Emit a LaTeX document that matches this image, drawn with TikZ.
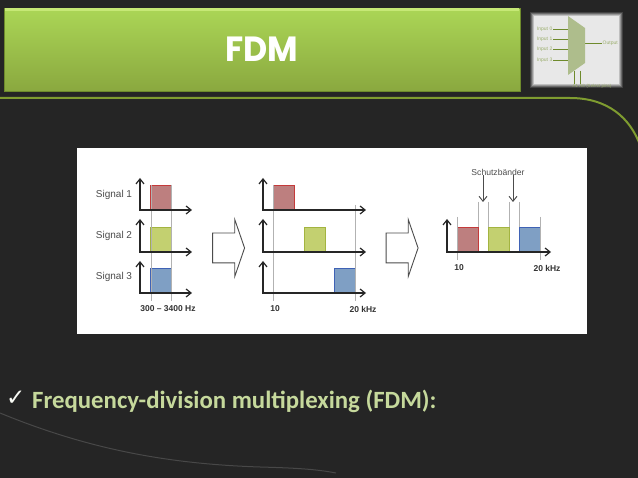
\documentclass[tikz,border=0pt]{standalone}
\usepackage{fontspec}
\usepackage{tikz}
\usetikzlibrary{arrows.meta, shapes, backgrounds}
\setmainfont{Liberation Sans}
\newfontfamily\titlefont{Poppins}
\newfontfamily\bulletfont{Carlito}
\newfontfamily\tickfont{DejaVu Sans}
\definecolor{slide}{HTML}{252525}
\definecolor{leaf}{HTML}{7F9C30}
\definecolor{leaftop}{HTML}{ABD656}
\definecolor{leafbottom}{HTML}{8AA83F}
\definecolor{leafshine}{HTML}{C6E876}
\definecolor{leafdark}{HTML}{6E8A2C}
\definecolor{muxfill}{HTML}{AEBD8C}
\definecolor{bullet}{HTML}{C6D99C}
\definecolor{sweep}{HTML}{484848}
\definecolor{redband}{HTML}{BD7F7F}
\definecolor{redline}{HTML}{C43A3A}
\definecolor{greenband}{HTML}{C3D070}
\definecolor{greenline}{HTML}{A3B440}
\definecolor{blueband}{HTML}{7F9FC4}
\definecolor{blueline}{HTML}{3F62B5}
\definecolor{thumb}{HTML}{E8E8E8}

\tikzset{
  band/.style={draw, line width=1pt, anchor=south west, inner sep=0pt, minimum width=21, minimum height=24},
  guide/.style={draw=black!30, line width=1pt},
  axis/.style={draw=black!85, line width=1.2pt, {Straight Barb[length=5pt,width=8pt]}-{Straight Barb[length=5pt,width=8pt]}},
  stage/.style={shape=single arrow, draw=black!70, fill=white, line width=0.9pt, inner xsep=0pt, inner ysep=14.5pt,
    minimum height=32, minimum width=56, single arrow head extend=13.5, single arrow tip angle=142},
  plate/.style={fill=thumb}
}

\begin{document}
\begin{tikzpicture}[x=1pt, y=-1pt, background rectangle/.style={fill=slide}, show background rectangle]
            \useasboundingbox (0,0) rectangle (638,478);

            % title bar
            \begin{scope}
                \node[shape=rectangle, draw=leafdark, top color=leaftop, bottom color=leafbottom, anchor=north west, inner sep=0pt,
                      minimum width=516, minimum height=83] (bar) at (4,8) {};
                \coordinate (barL) at (5,9.5);
                \coordinate (barR) at (519,9.5);
                \draw[line width=3pt, color=leafshine] (barL) -- (barR);
                \node[text=white, font=\titlefont\bfseries\fontsize{35}{35}\selectfont, xscale=0.95] (title) at (262,49) {FDM};
            \end{scope}

            % thumbnail
            \begin{scope}
                \fill[plate, opacity=0.15] (530,12) rectangle (623,88);
                \fill[plate, opacity=0.25] (531,13) rectangle (622,87);
                \fill[plate, opacity=0.35] (532,14) rectangle (621,86);
                \fill[plate, opacity=0.5] (533,15) rectangle (620,85);
                \fill[plate] (534,16) rectangle (619,84);
                \coordinate (i0) at (568,29);
                \coordinate (i1) at (568,39);
                \coordinate (i2) at (568,49);
                \coordinate (i3) at (568,60);
                \coordinate (o0) at (585,43);
                \coordinate (s0) at (574,71);
                \coordinate (s1) at (580,71);
                \node[inner sep=0.5pt, anchor=east, text=leafdark!70!white, font=\fontsize{5}{5}\selectfont] (in0) at (553,29) {Input 0};
                \node[inner sep=0.5pt, anchor=east, text=leafdark!70!white, font=\fontsize{5}{5}\selectfont] (in1) at (553,39) {Input 1};
                \node[inner sep=0.5pt, anchor=east, text=leafdark!70!white, font=\fontsize{5}{5}\selectfont] (in2) at (553,49) {Input 2};
                \node[inner sep=0.5pt, anchor=east, text=leafdark!70!white, font=\fontsize{5}{5}\selectfont] (in3) at (553,60) {Input 3};
                \node[inner sep=0.5pt, anchor=west, text=leafdark!70!white, font=\fontsize{5}{5}\selectfont] (out) at (602,43) {Output};
                \node[inner sep=0pt, text=leafdark!70!white, font=\fontsize{4.5}{5}\selectfont] (sel) at (592,86) {A1 A0 (Select pins)};
                \coordinate (s0b) at (574,84);
                \coordinate (s1b) at (580,84);
                \draw[leafdark, line width=0.9pt] (in0) -- (i0) (in1) -- (i1) (in2) -- (i2) (in3) -- (i3) (o0) -- (out) (s0) -- (s0b) (s1) -- (s1b);
                \fill[muxfill] (568,16) -- (585,28) -- (585,63) -- (568,75) -- cycle;
            \end{scope}

            % slide decoration
            \coordinate (ruleL) at (0,98);
            \coordinate (ruleM) at (570,98);
            \coordinate (ruleR) at (640,145);
            \draw[leaf, line width=2pt] (ruleL) -- (ruleM) .. controls (608,98) and (630,118) .. (ruleR);
            \coordinate (sweepL) at (0,413);
            \coordinate (sweepR) at (336,473);
            \draw[sweep, line width=1pt] (sweepL) .. controls (90,450) and (170,464) .. (260,467) .. controls (295,468) and (315,469) .. (sweepR);

            % white panel
            \node[shape=rectangle, fill=white, anchor=north west, inner sep=0pt, minimum width=510, minimum height=186] (panel) at (77,148) {};

            % signal labels
            \begin{scope}[every node/.style={inner sep=0pt, text=black!70, font=\fontsize{10}{11}\selectfont}]
                \node (sig1) at (114,195) {Signal 1};
                \node (sig2) at (114,236) {Signal 2};
                \node (sig3) at (114,277) {Signal 3};
                \node[text=black!80, font=\bfseries\fontsize{8.5}{9}\selectfont] (hz) at (168,309) {300 -- 3400 Hz};
                \node[text=black!80, font=\bfseries\fontsize{8.5}{9}\selectfont] (ten) at (275,309) {10};
                \node[text=black!80, font=\bfseries\fontsize{8.5}{9}\selectfont] (khz) at (363,309) {20 kHz};
                \node[text=black!80, font=\bfseries\fontsize{8.5}{9}\selectfont] (tenb) at (459,268) {10};
                \node[text=black!80, font=\bfseries\fontsize{8.5}{9}\selectfont] (khzb) at (547,268) {20 kHz};
                \node[font=\fontsize{8.6}{9}\selectfont] (guard) at (498,172) {Schutzbänder};
            \end{scope}

            % bands
            \begin{scope}
                \node[band, draw=redline, fill=redband] (a1) at (150,210) {};
                \node[band, draw=greenline, fill=greenband] (a2) at (150,252) {};
                \node[band, draw=blueline, fill=blueband] (a3) at (150,293) {};
                \node[band, draw=redline, fill=redband] (b1) at (273,210) {};
                \node[band, draw=greenline, fill=greenband] (b2) at (304,252) {};
                \node[band, draw=blueline, fill=blueband] (b3) at (334,293) {};
                \node[band, draw=redline, fill=redband] (c1) at (457,252) {};
                \node[band, draw=greenline, fill=greenband] (c2) at (488,252) {};
                \node[band, draw=blueline, fill=blueband] (c3) at (519,252) {};
            \end{scope}

            % guide lines
            \coordinate (g1) at (151,301);
            \coordinate (g2) at (171,301);
            \coordinate (g3) at (273,301);
            \coordinate (g4) at (355,301);
            \coordinate (g4t) at (355,205);
            \draw[guide] (g1 |- a1.north) -- (g1);
            \draw[guide] (g2 |- a1.north) -- (g2);
            \draw[guide] (g3 |- b1.north) -- (g3);
            \draw[guide] (g4t) -- (g4);
            \coordinate (h1t) at (457,217);
            \coordinate (h1b) at (457,260);
            \coordinate (h2t) at (478,202);
            \coordinate (h3t) at (488,202);
            \coordinate (h4t) at (509,202);
            \coordinate (h5t) at (519,202);
            \coordinate (h6t) at (540,217);
            \coordinate (h6b) at (540,260);
            \draw[guide] (h1t) -- (h1b);
            \draw[guide] (h2t) -- (h2t |- c1.north);
            \draw[guide] (h3t) -- (h3t |- c2.north);
            \draw[guide] (h4t) -- (h4t |- c2.north);
            \draw[guide] (h5t) -- (h5t |- c3.north);
            \draw[guide] (h6t) -- (h6b);

            % axes
            \begin{scope}
                \coordinate (a1y) at (140,178);
                \coordinate (a1x) at (192,210);
                \coordinate (a2y) at (140,219);
                \coordinate (a2x) at (192,252);
                \coordinate (a3y) at (140,261);
                \coordinate (a3x) at (192,293);
                \coordinate (b1y) at (263,178);
                \coordinate (b1x) at (366,210);
                \coordinate (b2y) at (263,219);
                \coordinate (b2x) at (366,252);
                \coordinate (b3y) at (263,261);
                \coordinate (b3x) at (366,293);
                \coordinate (c1y) at (447,219);
                \coordinate (c1x) at (551,252);
                \draw[axis] (a1y) |- (a1x);
                \draw[axis] (a2y) |- (a2x);
                \draw[axis] (a3y) |- (a3x);
                \draw[axis] (b1y) |- (b1x);
                \draw[axis] (b2y) |- (b2x);
                \draw[axis] (b3y) |- (b3x);
                \draw[axis] (c1y) |- (c1x);
            \end{scope}

            % guard band arrows
            \coordinate (p1) at (483,202);
            \coordinate (p2) at (513,202);
            \draw[black!70, line width=0.9pt, -{Straight Barb[length=5pt,width=8pt]}] (guard.south -| p1) -- (p1);
            \draw[black!70, line width=0.9pt, -{Straight Barb[length=5pt,width=8pt]}] (guard.south -| p2) -- (p2);

            % stage arrows
            \node[stage] (next1) at (226,248) {};
            \node[stage] (next2) at (399.5,248) {};

            % caption
            \node[anchor=base west, inner sep=0pt, text=white!90!bullet, font=\tickfont\fontsize{23}{23}\selectfont] (tick) at (6,406) {✓};
            \node[anchor=base west, inner sep=0pt, text=bullet, font=\bulletfont\bfseries\fontsize{24.8}{25}\selectfont] (caption) at (32,409) {Frequency-division multiplexing (FDM):};
            \end{tikzpicture}
\end{document}
